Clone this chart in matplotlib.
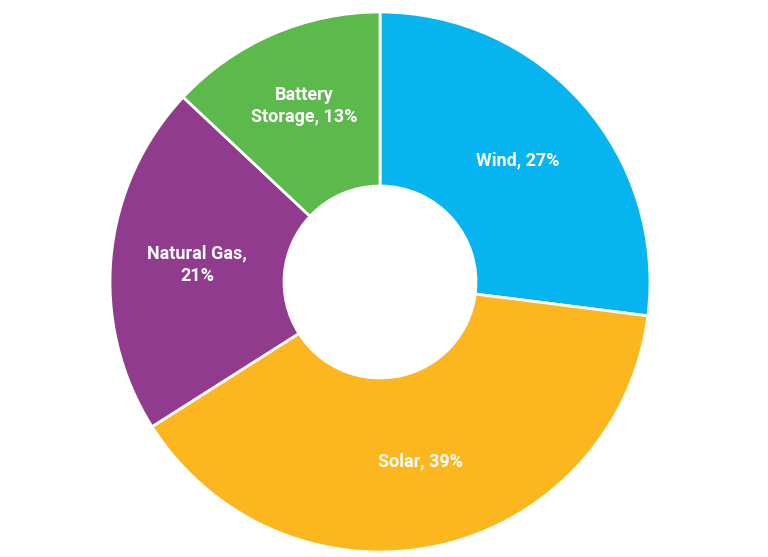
import matplotlib
matplotlib.use("Agg")
import matplotlib.pyplot as plt
import numpy as np

categories = ["Wind", "Solar", "Natural Gas", "Battery Storage"]
values = [27, 39, 21, 13]
labels = ["Wind, 27%", "Solar, 39%", "Natural Gas,\n21%", "Battery\nStorage, 13%"]
colors = ["#06B5F0", "#FCB61E", "#913B8E", "#5BBA4B"]

fig = plt.figure(figsize=(7.68, 5.57), dpi=100)
ax = fig.add_axes([0, 0, 1, 1])
R = 270
cx, cy = 380, 557 - 282
wedges, _ = ax.pie(values, colors=colors, startangle=90, counterclock=False,
                   radius=R, center=(cx, cy),
                   wedgeprops=dict(width=R - 96, edgecolor="white", linewidth=2))
dists = [0.68, 0.68, 0.68, 0.71]
for w, lab, d in zip(wedges, labels, dists):
    ang = np.deg2rad((w.theta1 + w.theta2) / 2)
    r = d * R
    ax.text(cx + r * np.cos(ang), cy + r * np.sin(ang), lab, ha="center", va="center",
            color="white", fontsize=13, fontweight="bold", family=["Roboto", "DejaVu Sans"],
            linespacing=1.3)
ax.set_xlim(0, 768)
ax.set_ylim(0, 557)
ax.set_aspect("equal")
ax.axis("off")
fig.savefig("out.png", dpi=100)
